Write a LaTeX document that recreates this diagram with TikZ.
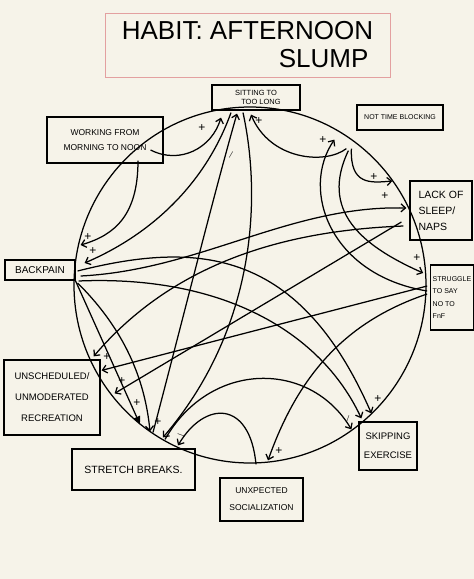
\documentclass[tikz,border=0pt]{standalone}
\usepackage{fontspec}
\setmainfont{Liberation Sans}
\usepackage{tikz}
\usetikzlibrary{arrows.meta,calc}
\definecolor{paper}{HTML}{F6F3E9}
\definecolor{rosy}{HTML}{E3A0A0}
\newcommand{\hand}[2]{\fontsize{#1}{#2}\selectfont}

\begin{document}
\begin{tikzpicture}[
  x=1pt, y=-1pt,
  box/.style={draw, line width=1.2pt, inner sep=2pt, align=center},
  arr/.style={-{Straight Barb[length=4.5pt,width=8pt]}, line width=1.25pt},
  fat/.style={-{Triangle[length=8pt,width=7pt]}, line width=1.25pt},
  sgn/.style={inner sep=0pt, font=\hand{12}{12}}
]
\fill[paper] (0,0) rectangle (474,579);
\useasboundingbox (0,0) rectangle (474,579);

% title
\node[draw=rosy, line width=1pt, minimum width=285pt, minimum height=64pt,
      align=left, font=\hand{26}{28}] (title) at (247.5,45)
      {HABIT: AFTERNOON\\\hspace*{157pt}SLUMP};

% the loop
\coordinate (O) at (250,285);
\draw[line width=1.25pt] (O) ellipse [x radius=176pt, y radius=178pt];

% factors
\node[box, minimum width=88pt, minimum height=25pt, font=\hand{7.5}{9.5}] (sit) at (256,97.5) {SITTING TO\\\hspace*{10pt}TOO LONG};
\node[box, minimum width=116pt, minimum height=46pt, font=\hand{8.5}{15}] (work) at (105,140) {WORKING FROM\\MORNING TO NOON};
\node[box, minimum width=86pt, minimum height=25pt, font=\hand{7}{8}] (ntb) at (400,117.5) {NOT TIME BLOCKING};
\node[box, minimum width=62pt, minimum height=59pt, align=left, font=\hand{10.5}{16}] (lack) at (441,210.5) {LACK OF\\SLEEP/\\NAPS};
\node[box, minimum width=42pt, minimum height=65pt, align=left, font=\hand{7}{12.5}] (fnf) at (452,297.5) {STRUGGLE\\TO SAY\\NO TO\\FnF};
\node[box, minimum width=70pt, minimum height=20pt, font=\hand{10}{12}] (back) at (40,270) {BACKPAIN};
\node[box, minimum width=96pt, minimum height=75pt, font=\hand{9.5}{21}] (unsch) at (52,397.5) {UNSCHEDULED/\\UNMODERATED\\RECREATION};
\node[box, minimum width=123pt, minimum height=41pt, font=\hand{10.5}{12}] (stretch) at (133.5,469.5) {STRETCH BREAKS.};
\node[box, minimum width=83pt, minimum height=43pt, font=\hand{8.5}{17}] (unexp) at (261.5,499.5) {UNXPECTED\\SOCIALIZATION};
\node[box, minimum width=58pt, minimum height=48pt, font=\hand{9.5}{19}] (skip) at (388,446) {SKIPPING\\EXERCISE};

% ends on the loop
\coordinate (s1) at ($(sit.south)+(-35,7)$);
\coordinate (s2) at ($(sit.south)+(-25,2)$);
\coordinate (s3) at ($(sit.south)+(-19,3)$);
\coordinate (s4) at ($(sit.south)+(-13,2)$);
\coordinate (s5) at ($(sit.south)+(-5,4)$);
\coordinate (w1) at ($(work.east)+(-13,10)$);
\coordinate (w2) at ($(work.south)+(33,-3)$);
\coordinate (n1) at ($(ntb.south west)+(-10,18)$);
\coordinate (n2) at ($(ntb.south west)+(-5,18)$);
\coordinate (n3) at ($(ntb.south west)+(-8,20)$);
\coordinate (n4) at ($(ntb.south west)+(-22,9)$);
\coordinate (l1) at ($(lack.west)+(-17,-29.5)$);
\coordinate (l2) at ($(lack.west)+(-3,-2.5)$);
\coordinate (l3) at ($(lack.west)+(-8,11.5)$);
\coordinate (l4) at ($(lack.west)+(-6,15.5)$);
\coordinate (f1) at ($(fnf.west)+(-7,-24.5)$);
\coordinate (f2) at ($(fnf.west)+(-3,-11.5)$);
\coordinate (f3) at ($(fnf.west)+(-3,-6.5)$);
\coordinate (f4) at ($(fnf.west)+(-3,-3.5)$);
\coordinate (b1) at ($(back.east)+(5,-25)$);
\coordinate (b2) at ($(back.east)+(9,-7)$);
\coordinate (b3) at ($(back.east)+(2,1)$);
\coordinate (b4) at ($(back.east)+(5,6)$);
\coordinate (b5) at ($(back.east)+(3,11)$);
\coordinate (b6) at ($(back.east)+(0,11)$);
\coordinate (b7) at ($(back.east)+(2,13)$);
\coordinate (u1) at ($(unsch.north east)+(1,11)$);
\coordinate (u2) at ($(unsch.north east)+(14,34)$);
\coordinate (u3) at ($(unsch.north east)+(-7,-3)$);
\coordinate (r1) at ($(stretch.north)+(19.5,-16)$);
\coordinate (r2) at ($(stretch.north)+(29.5,-11)$);
\coordinate (r3) at ($(stretch.north)+(6.5,-24)$);
\coordinate (r4) at ($(stretch.north)+(16.5,-17)$);
\coordinate (r5) at ($(stretch.north)+(44.5,-3)$);
\coordinate (r6) at ($(stretch.north)+(31.5,-9)$);
\coordinate (x1) at ($(unexp.north)+(-5.5,-13)$);
\coordinate (x2) at ($(unexp.north)+(6.5,-17)$);
\coordinate (k1) at ($(skip.north west)+(-7,8)$);
\coordinate (k2) at ($(skip.north west)+(3,-3)$);
\coordinate (k3) at ($(skip.north west)+(13,-8)$);

% links
\draw[arr] (w1) .. controls (180,165) and (212,148) .. (s1);
\draw[arr] (w2) .. controls (138,215) and (115,235) .. (b1);
\draw[arr] (s2) .. controls (205,185) and (150,235) .. (b2);
\draw[arr] (r1) .. controls (180,330) and (215,190) .. (s3);
\draw[arr] (s4) .. controls (262,200) and (255,330) .. (r2);
\draw[arr] (n1) .. controls (325,165) and (270,160) .. (s5);
\draw[arr] (f3) .. controls (330,275) and (300,190) .. (n4);
\draw[arr] (n2) .. controls (350,185) and (370,183) .. (l1);
\draw[arr] (n3) .. controls (320,210) and (360,245) .. (f1);
\draw[arr] (b4) .. controls (200,270) and (290,205) .. (l2);
\draw[arr] (l3) -- (u2);
\draw[arr] (l4) .. controls (300,230) and (180,255) .. (u3);
\draw[arr] (f2) -- (u1);
\draw[arr] (f4) .. controls (350,320) and (300,370) .. (x2);
\draw[fat] (b6) -- (r3);
\draw[arr] (b7) .. controls (125,330) and (145,380) .. (r4);
\draw[arr] (r6) .. controls (210,360) and (310,360) .. (k1);
\draw[arr] (x1) .. controls (250,400) and (205,400) .. (r5);
\draw[arr] (b3) .. controls (200,240) and (300,250) .. (k3);
\draw[arr] (b5) .. controls (220,275) and (320,330) .. (k2);

% signs
\node[sgn] (p1) at (202,128) {+};
\node[sgn] (p2) at (88,237) {+};
\node[sgn] (p3) at (93,251) {+};
\node[sgn, rotate=60] (p4) at (231,155) {$-$};
\node[sgn] (p5) at (158,422) {+};
\node[sgn] (p6) at (259,121) {+};
\node[sgn] (p7) at (323,140) {+};
\node[sgn] (p8) at (374,177) {+};
\node[sgn] (p9) at (417,258) {+};
\node[sgn] (p10) at (385,196) {+};
\node[sgn] (p11) at (122,381) {+};
\node[sgn] (p12) at (107,357) {+};
\node[sgn] (p13) at (279,451) {+};
\node[sgn] (p14) at (137,403) {+};
\node[sgn, rotate=70] (p16) at (348,419) {$-$};
\node[sgn, rotate=-20] (p17) at (181,435) {$-$};
\node[sgn] (p18) at (378,399) {+};
\end{tikzpicture}
\end{document}
